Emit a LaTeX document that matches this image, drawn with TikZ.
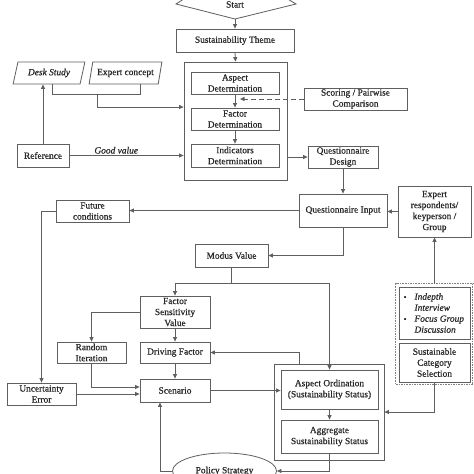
\documentclass[tikz,border=0pt]{standalone}
\usepackage{fontspec}
\setmainfont{Liberation Serif}[FakeBold=0.6]
\usetikzlibrary{arrows.meta,shapes.geometric}
\definecolor{linec}{RGB}{95,95,95}
\definecolor{textc}{RGB}{40,40,40}
\newcommand{\fsz}{\fontsize{9.4}{11}\selectfont}
\tikzset{
  ln/.style={draw=linec, line width=0.8pt},
  arr/.style={ln, -{Triangle[length=4.5pt,width=4pt]}},
  box/.style={draw=linec, line width=0.8pt, inner sep=1pt, align=center, text=textc, font=\fsz},
  para/.style={box, trapezium, trapezium left angle=72, trapezium right angle=108, trapezium stretches=true},
  lbl/.style={text=textc, font=\fsz, inner sep=1.5pt},
}
\begin{document}
\begin{tikzpicture}[x=1pt,y=-1pt]
\useasboundingbox (0,0) rectangle (474,474);
\fill[white] (0,0) rectangle (474,474);
\clip (0,0) rectangle (474,474);

% start shape
\draw[ln, fill=white] (176,4) -- (190,-5) -- (281,-5) -- (296,4) -- (235,19) -- cycle;
\node[lbl] (start) at (235,4.5) {Start};
\coordinate (sb) at (235,19);

% top part
\node[box, minimum width=118pt, minimum height=23pt] (theme) at (235,40.5) {Sustainability Theme};
\node[box, minimum width=103pt, minimum height=118pt] (outer1) at (235.5,121) {};
\node[box, minimum width=88pt, minimum height=22pt] (aspect) at (235,83) {Aspect\\Determination};
\node[box, minimum width=88pt, minimum height=22pt] (factor) at (235,119) {Factor\\Determination};
\node[box, minimum width=88pt, minimum height=23pt] (indic) at (235,155.5) {Indicators\\Determination};
\node[box, minimum width=103pt, minimum height=22pt] (scoring) at (355.5,99) {Scoring / Pairwise\\Comparison};
\node[para, minimum width=72pt, minimum height=22pt] (desk) at (49,73) {\textit{Desk Study}};
\node[para, minimum width=73pt, minimum height=22pt] (exc) at (125.5,73) {Expert concept};
\node[box, minimum width=52pt, minimum height=23pt] (ref) at (43,155.5) {Reference};
\node[box, minimum width=70pt, minimum height=22pt] (qdesign) at (343,157) {Questionnaire\\Design};

% middle
\node[box, minimum width=88pt, minimum height=33pt] (qinput) at (343,210.5) {Questionnaire Input};
\node[box, minimum width=73pt, minimum height=51pt] (expert) at (434.5,211.5) {Expert\\respondents/\\keyperson /\\Group};
\node[box, minimum width=73pt, minimum height=22pt] (future) at (92.5,211) {Future\\conditions};
\node[box, minimum width=73pt, minimum height=23pt] (modus) at (231.5,255.5) {Modus Value};
\node[box, minimum width=70pt, minimum height=32pt] (fsv) at (175,312) {Factor\\Sensitivity\\Value};
\node[box, minimum width=69pt, minimum height=21pt] (random) at (91.5,352.5) {Random\\Iteration};
\node[box, minimum width=70pt, minimum height=21pt] (driving) at (175,352.5) {Driving Factor};
\node[box, minimum width=70pt, minimum height=23pt] (scenario) at (175,390.5) {Scenario};
\node[box, minimum width=69pt, minimum height=22pt] (uncert) at (41.5,394) {Uncertainty\\Error};

% right lower
\node[box, minimum width=110pt, minimum height=96pt] (outer2) at (329,412) {};
\node[box, minimum width=97pt, minimum height=39pt] (ordination) at (329.5,389.5) {Aspect Ordination\\(Sustainability Status)};
\node[box, minimum width=97pt, minimum height=33pt] (aggregate) at (329.5,436.5) {Aggregate\\Sustainability Status};
\node[box, draw=gray, dash pattern=on 1.6pt off 1pt, double=white, double distance=0.7pt, line width=0.6pt, minimum width=77pt, minimum height=101pt] (dashbox) at (434.5,334.5) {};
\node[box, minimum width=71pt, minimum height=52pt] (bullets) at (434.5,313) {};
\node[lbl, anchor=west, align=left] (blist) at (402,313) {{\footnotesize\textbullet}\hspace{8pt}\textit{Indepth}\\\phantom{{\footnotesize\textbullet}}\hspace{8pt}\textit{Interview}\\{\footnotesize\textbullet}\hspace{8pt}\textit{Focus Group}\\\phantom{{\footnotesize\textbullet}}\hspace{8pt}\textit{Discussion}};
\node[box, minimum width=71pt, minimum height=39pt] (category) at (434.5,362.5) {Sustainable\\Category\\Selection};
\node[box, ellipse, fill=white, minimum width=104pt, minimum height=36pt] (policy) at (224.5,471) {Policy Strategy};

% connectors top
\draw[arr] (sb) -- (theme.north);
\draw[arr] (theme.south) -- (outer1.north);
\draw[arr] (aspect.south) -- (factor.north);
\draw[arr] (factor.south) -- (indic.north);
\draw[arr, dash pattern=on 5pt off 3pt] (scoring.west) -- ([xshift=5pt]aspect.south |- scoring.west);
\coordinate (dj) at (97,94);
\coordinate (dj2) at (97,107);
\draw[ln] ([xshift=3pt]desk.south) |- ([xshift=14.5pt]exc.south |- dj) -- ([xshift=14.5pt]exc.south);
\draw[arr] (dj) -- (dj2) -- (dj2 -| outer1.west);
\draw[arr] (ref.north) -- (ref.north |- desk.south);
\draw[arr] (ref.east) -- node[lbl, above, pos=0.41]{\textit{Good value}} (outer1.west |- ref.east);
\draw[arr] (outer1.east |- qdesign.west) -- (qdesign.west);
\draw[arr] (qdesign.south) -- (qinput.north);

% connectors middle
\draw[arr] (expert.west) -- (qinput.east |- expert.west);
\draw[arr] (qinput.west) -- (future.east |- qinput.west);
\draw[arr] (future.west) -| (uncert.north);
\draw[arr] (qinput.south) |- (modus.east);
\coordinate (mj) at (231.5,283);
\draw[ln] (modus.south) -- (mj);
\draw[arr] (mj) -| (fsv.north);
\draw[arr] (mj) -| (ordination.north);
\draw[arr] (fsv.west) -| (random.north);
\draw[arr] (fsv.south) -- (driving.north);
\draw[arr] (driving.south) -- (scenario.north);
\draw[arr] (random.south) |- ([yshift=3.5pt]scenario.west);
\draw[arr] (uncert.east) -- (scenario.west |- uncert.east);
\draw[arr] (scenario.east) -- (ordination.west |- scenario.east);
\draw[arr] ([xshift=-30pt]outer2.north) |- (driving.east);
\draw[arr] (ordination.south) -- (aggregate.north);
\draw[arr] (aggregate.south) |- (policy.east);
\draw[arr] (policy.west) -| ([xshift=-15pt]scenario.south);
\draw[arr] (dashbox.north) -- (expert.south);
\draw[arr] (category.south) |- (outer2.east);
\end{tikzpicture}
\end{document}
